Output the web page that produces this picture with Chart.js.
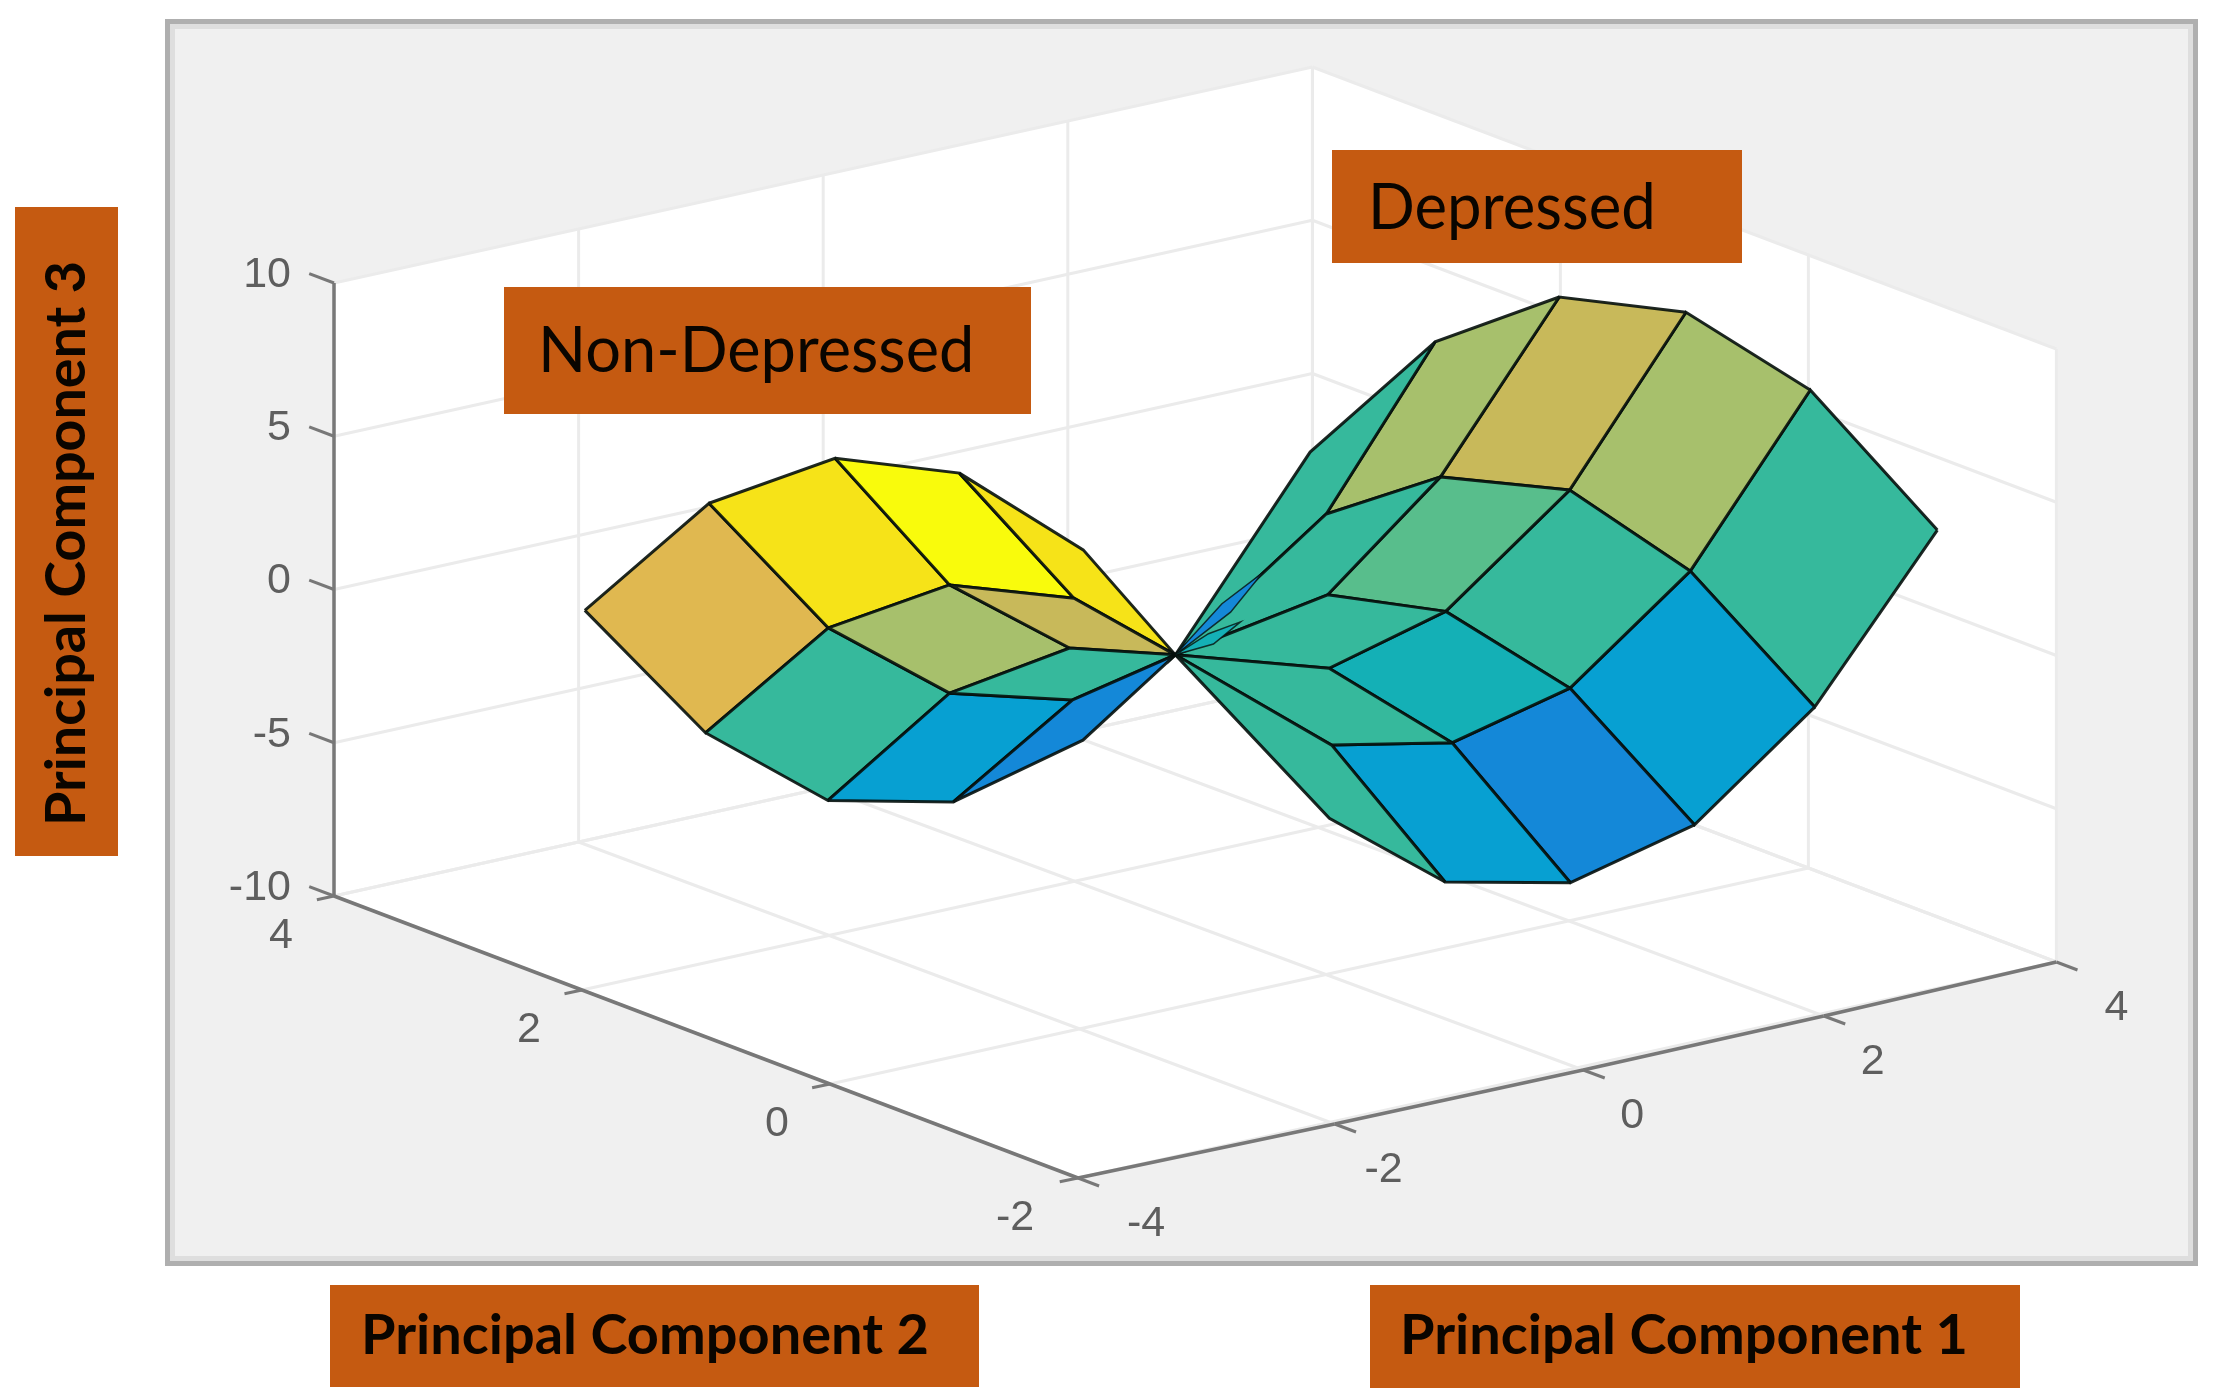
<!DOCTYPE html>
<html>
<head>
<meta charset="utf-8">
<title>Principal components surface</title>
<script src="https://cdn.jsdelivr.net/npm/chart.js@4"></script>
<style>
  html, body { margin: 0; padding: 0; background: #fff; }
  #stage { position: relative; width: 2214px; height: 1398px; overflow: hidden; }
  #panel {
    position: absolute; left: 165px; top: 19px; width: 2033px; height: 1247px;
    box-sizing: border-box; background: #f0f0f0;
    border: 5px solid #afafaf; box-shadow: inset 0 0 0 5px #dedede;
  }
  canvas { position: absolute; left: 0; top: 0; filter: blur(0.6px); }
  .tag {
    position: absolute; background: #c55a11; color: #0a0500;
    font-family: Lato, sans-serif; white-space: nowrap;
  }
  .tag span { position: absolute; transform-origin: 0 0; }
  .bold { font-weight: 700; font-size: 56px; }
  .plain { font-weight: 400; font-size: 64px; }
</style>
</head>
<body>
<div id="stage">
  <div id="panel"></div>
  <canvas id="surfaceChart" width="2214" height="1398"></canvas>
  <div class="tag bold" style="left:15px;top:207px;width:103px;height:649px">
    <span id="pc3Label">Principal Component 3</span>
  </div>
  <div class="tag plain" style="left:504px;top:287px;width:527px;height:127px">
    <span id="nonLabel">Non-Depressed</span>
  </div>
  <div class="tag plain" style="left:1332px;top:150px;width:410px;height:113px">
    <span id="depLabel">Depressed</span>
  </div>
  <div class="tag bold" style="left:330px;top:1285px;width:649px;height:102px">
    <span id="pc2Label">Principal Component 2</span>
  </div>
  <div class="tag bold" style="left:1370px;top:1285px;width:650px;height:103px">
    <span id="pc1Label">Principal Component 1</span>
  </div>
</div>
<script>
const pc1Ticks = [-4, -2, 0, 2, 4];
const pc2Ticks = [-2, 0, 2, 4];
const pc3Ticks = [-10, -5, 0, 5, 10];

// Non-Depressed lobe, rows run towards the point where the lobes meet
const leftPc1 = [
  [-2.75, -1.38, -0.42, 0.12, 0.24, 0],
  [-2.96, -1.61, -0.69, -0.14, 0],
  [-2.79, -1.43, -0.5, 0],
  [-2.15, -0.84, 0],
  [-1.06, 0],
];
const leftPc2 = [
  [3.21, 3.56, 3.49, 3.02, 2.14, 1.16],
  [2.03, 2.37, 2.3, 1.84, 1.16],
  [1.21, 1.57, 1.52, 1.16],
  [0.83, 1.16, 1.16],
  [0.86, 1.16],
];
const leftPc3 = [
  [-0.57, 1.18, 1.91, 1.67, 0.41, -1.3],
  [-2.57, -0.86, -0.16, -0.37, -1.3],
  [-3.67, -1.92, -1.19, -1.3],
  [-3.7, -2.03, -1.3],
  [-2.69, -1.3],
];

// Depressed lobe
const rightPc1 = [
  [4, 3.64, 3.1, 2.47, 1.77, 0.97, 0],
  [3.23, 2.77, 2.26, 1.61, 0.97, 0],
  [2.45, 1.99, 1.45, 0.87, 0],
  [1.73, 1.31, 0.77, 0],
  [1.08, 0.68, 0],
  [0.57, 0],
];
const rightPc2 = [
  [-1.04, -0.37, 0.1, 0.5, 0.81, 1.03, 1.16],
  [-0.81, -0.26, 0.21, 0.61, 0.9, 1.16],
  [-0.61, -0.06, 0.41, 0.79, 1.16],
  [-0.32, 0.22, 0.68, 1.16],
  [0.05, 0.57, 1.16],
  [0.48, 1.16],
];
const rightPc3 = [
  [2.62, 6.48, 8.77, 9.21, 7.89, 4.66, -1.3],
  [-2.83, 1.17, 3.54, 3.93, 2.84, -1.3],
  [-6.29, -2.27, -0.01, 0.46, -1.3],
  [-7.99, -3.88, -1.68, -1.3],
  [-7.96, -3.94, -1.3],
  [-6.09, -1.3],
];

// back of the surface showing through near the meeting point
const foldPc1 = [[0, 0.34, 0.56, 0.31], [0, 0.21, 0.38, 0.2]];
const foldPc2 = [[1.16, 1.05, 1.01, 1.09], [1.16, 1.06, 1.01, 1.09]];
const foldPc3 = [[-1.3, -0.04, 1.11, 0.2], [-1.3, -0.98, -0.33, -0.68]];

const ORANGE = "#e0b850";
const YELLOW = "#f6e318";
const BRIGHT = "#f9fb0c";
const TEAL = "#36b99c";
const OLIVE = "#a7c06c";
const KHAKI = "#c8b95a";
const GREEN = "#58be8c";
const BLUE = "#07a0d2";
const DEEP = "#1488d8";
const CYAN = "#14b0b6";

const leftColors = [
  [ORANGE, YELLOW, BRIGHT, YELLOW],
  [TEAL, OLIVE, KHAKI],
  [BLUE, TEAL],
  [DEEP],
];
const rightColors = [
  [TEAL, OLIVE, KHAKI, OLIVE, TEAL],
  [BLUE, TEAL, GREEN, TEAL],
  [DEEP, CYAN, TEAL],
  [BLUE, TEAL],
  [TEAL],
];
const foldColors = [DEEP, CYAN];

// fixed view of the 3d box, one unit along each axis on the picture
function project(a, b, c) {
  // the floor of the reference is slightly bowed towards the front
  const bow = c === pc3Ticks[0] ? ((a + 4) * (4 - a) * (4 - b)) / 6 : 0;
  return {
    x: 1078 + 122.3 * (a + 4) - 124 * (b + 2) + bow,
    y: 1178 - 27 * (a + 4) - 47 * (b + 2) - 30.65 * (c + 10),
  };
}

const datasets = [];

function addLine(points, color, width) {
  datasets.push({
    data: points.map((p) => project(p[0], p[1], p[2])),
    showLine: true,
    borderColor: color,
    borderWidth: width,
    pointRadius: 0,
    clip: false,
  });
}

function addFace(points, color, edge, edgeWidth) {
  const ring = points.concat([points[0]]);
  datasets.push({
    data: ring.map((p) => project(p[0], p[1], p[2])),
    showLine: true,
    borderColor: edge,
    borderWidth: edgeWidth,
    borderJoinStyle: "miter",
    pointRadius: 0,
    faceFill: color,
    clip: false,
  });
}

function addLobe(pc1, pc2, pc3, colors) {
  function vertex(r, c) {
    const k = Math.min(c, pc1[r].length - 1);
    return [pc1[r][k], pc2[r][k], pc3[r][k]];
  }
  colors.forEach((row, r) => {
    row.forEach((color, c) => {
      addFace(
        [vertex(r, c), vertex(r, c + 1), vertex(r + 1, c + 1), vertex(r + 1, c)],
        color,
        "rgba(6,16,12,0.9)",
        3
      );
    });
  });
}

function buildBox() {
  const a0 = pc1Ticks[0];
  const a1 = pc1Ticks[pc1Ticks.length - 1];
  const b0 = pc2Ticks[0];
  const b1 = pc2Ticks[pc2Ticks.length - 1];
  const c0 = pc3Ticks[0];
  const c1 = pc3Ticks[pc3Ticks.length - 1];
  const grid = "#ebebeb";

  addFace(
    [[a0, b1, c1], [a1, b1, c1], [a1, b0, c1], [a1, b0, c0], [a0, b0, c0], [a0, b1, c0]],
    "#ffffff",
    "rgba(255,255,255,0)",
    0
  );

  pc1Ticks.forEach((t) => {
    addLine([[t, b0, c0], [t, b1, c0]], grid, 3);
    addLine([[t, b1, c0], [t, b1, c1]], t === a1 ? "#d2d2d2" : grid, t === a1 ? 2.5 : 3);
  });
  pc2Ticks.forEach((t) => {
    addLine([[a0, t, c0], [a1, t, c0]], grid, 3);
    addLine([[a1, t, c0], [a1, t, c1]], grid, 3);
  });
  pc3Ticks.forEach((t) => {
    addLine([[a0, b1, t], [a1, b1, t]], grid, 3);
    addLine([[a1, b1, t], [a1, b0, t]], grid, 3);
  });

  const axis = "#787878";
  addLine([[a0, b1, c0], [a0, b1, c1]], axis, 3.5);
  addLine([[a0, b0, c0], [a0, b1, c0]], axis, 3.5);
  const pc1Axis = pc1Ticks.map((t) => [t, b0, c0]);
  for (let i = 1; i < pc1Axis.length; i++) {
    addLine([pc1Axis[i - 1], pc1Axis[i]], axis, 3.5);
  }
  pc3Ticks.forEach((t) => addLine([[a0, b1, t], [a0, b1 + 0.2, t]], axis, 3));
  pc2Ticks.forEach((t) => addLine([[a0, t, c0], [a0 - 0.14, t, c0]], axis, 3));
  pc1Ticks.forEach((t) => addLine([[t, b0, c0], [t, b0 - 0.17, c0]], axis, 3));
}

const faceFillPlugin = {
  id: "faceFill",
  beforeDatasetDraw(chart, args) {
    const color = chart.data.datasets[args.index].faceFill;
    if (!color) return;
    const pts = args.meta.data;
    const ctx = chart.ctx;
    ctx.save();
    ctx.beginPath();
    pts.forEach((p, i) => (i === 0 ? ctx.moveTo(p.x, p.y) : ctx.lineTo(p.x, p.y)));
    ctx.closePath();
    ctx.fillStyle = color;
    ctx.fill();
    ctx.restore();
  },
};

const tickLabelPlugin = {
  id: "tickLabels",
  afterDraw(chart) {
    const ctx = chart.ctx;
    const sx = chart.scales.x;
    const sy = chart.scales.y;
    const a0 = pc1Ticks[0];
    const a1 = pc1Ticks[pc1Ticks.length - 1];
    const b0 = pc2Ticks[0];
    const b1 = pc2Ticks[pc2Ticks.length - 1];
    const c0 = pc3Ticks[0];

    function label(text, p, dx, dy, align) {
      ctx.textAlign = align;
      ctx.fillText(text, sx.getPixelForValue(p.x) + dx, sy.getPixelForValue(p.y) + dy);
    }

    ctx.save();
    ctx.font = "43px 'Liberation Sans', sans-serif";
    ctx.fillStyle = "#5e5e5e";
    ctx.textBaseline = "middle";
    pc3Ticks.forEach((t) => label(String(t), project(a0, b1, t), -43, -8, "right"));
    pc2Ticks.forEach((t) =>
      label(String(t), project(a0, t, c0), t === b0 ? -63 : -53, 40, "center")
    );
    pc1Ticks.forEach((t) =>
      label(String(t), project(t, b0, c0), t === a0 ? 68 : t === a1 ? 60 : 49, 46, "center")
    );
    ctx.restore();
  },
};

function initChart() {
  buildBox();
  addLobe(leftPc1, leftPc2, leftPc3, leftColors);
  addLobe(rightPc1, rightPc2, rightPc3, rightColors);
  foldColors.forEach((color, i) => {
    const ring = foldPc1[i].map((v, k) => [v, foldPc2[i][k], foldPc3[i][k]]);
    addFace(ring, color, "rgba(6,16,12,0.8)", 1.5);
  });
  // later sets paint over earlier ones
  datasets.forEach((d, i) => {
    d.order = datasets.length - i;
  });

  new Chart(document.getElementById("surfaceChart").getContext("2d"), {
    type: "scatter",
    data: { datasets: datasets },
    options: {
      responsive: false,
      animation: false,
      layout: { padding: 0 },
      plugins: { legend: { display: false }, tooltip: { enabled: false } },
      scales: {
        x: { type: "linear", min: 0, max: 2214, display: false },
        y: { type: "linear", min: 0, max: 1398, reverse: true, display: false },
      },
    },
    plugins: [faceFillPlugin, tickLabelPlugin],
  });
}

// squeeze a caption into the width it has in the picture
function placeText(id, left, top, width, rotated) {
  const el = document.getElementById(id);
  const w = el.offsetWidth;
  const sx = width / w;
  el.style.left = left + "px";
  el.style.top = top + "px";
  el.style.transform = rotated
    ? "rotate(-90deg) scaleX(" + sx + ")"
    : "scaleX(" + sx + ")";
}

window.onload = function () {
  initChart();
  placeText("nonLabel", 34, 22, 436, false);
  placeText("depLabel", 36, 16, 288, false);
  placeText("pc2Label", 31, 14, 568, false);
  placeText("pc1Label", 30, 14, 568, false);
  placeText("pc3Label", 15, 619, 565, true);
};
</script>
</body>
</html>
